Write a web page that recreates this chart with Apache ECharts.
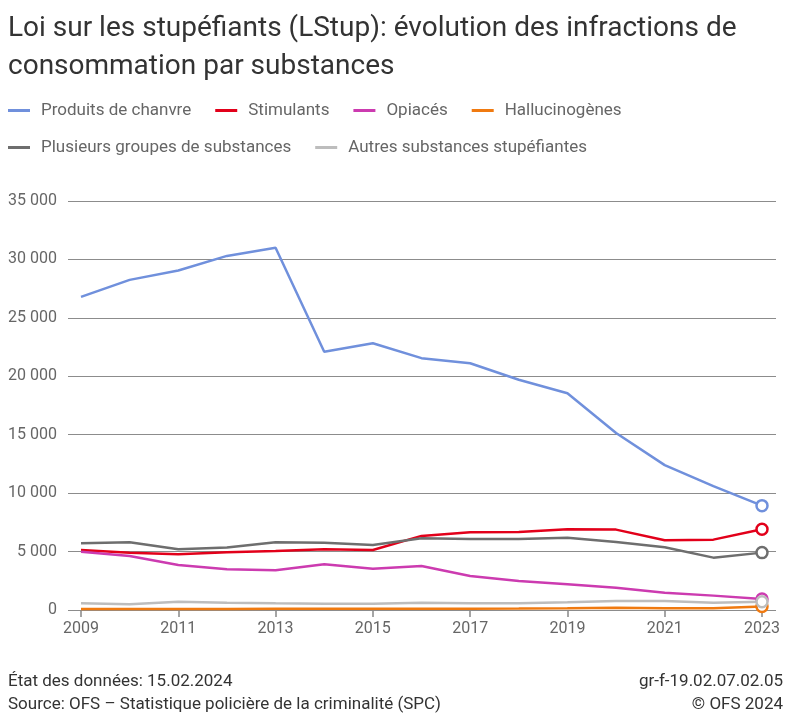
<!DOCTYPE html>
<html>
<head>
<meta charset="utf-8">
<script src="https://cdn.jsdelivr.net/npm/echarts@6/dist/echarts.min.js"></script>
<style>
  html, body { margin: 0; padding: 0; background: #fff; }
  #chart { width: 791px; height: 721px; }
</style>
</head>
<body>
<div id="chart"></div>
<script>
// années et valeurs
const years = [2009, 2010, 2011, 2012, 2013, 2014, 2015, 2016, 2017, 2018, 2019, 2020, 2021, 2022, 2023];
const chanvre = [26800, 28250, 29050, 30300, 31000, 22100, 22830, 21550, 21120, 19700, 18550, 15150, 12400, 10600, 8930];
const stimulants = [5140, 4900, 4770, 4940, 5050, 5200, 5140, 6340, 6650, 6680, 6910, 6880, 5970, 6020, 6910];
const opiaces = [4990, 4620, 3850, 3480, 3400, 3910, 3540, 3770, 2910, 2480, 2200, 1910, 1480, 1230, 940];
const hallucinogenes = [80, 80, 90, 90, 100, 110, 110, 100, 110, 120, 140, 190, 160, 150, 300];
const plusieurs = [5710, 5800, 5200, 5340, 5800, 5760, 5570, 6140, 6080, 6080, 6190, 5820, 5370, 4480, 4910];
const autres = [570, 490, 710, 620, 570, 540, 540, 620, 570, 570, 660, 770, 770, 620, 700];
const yTicks = [0, 5000, 10000, 15000, 20000, 25000, 30000, 35000];

const names = ['Produits de chanvre', 'Stimulants', 'Opiacés', 'Hallucinogènes',
  'Plusieurs groupes de substances', 'Autres substances stupéfiantes'];
const colors = ['#7090dc', '#e2001a', '#cc3bb0', '#f07a10', '#6e6e6e', '#bdbdbd'];
const values = [chanvre, stimulants, opiaces, hallucinogenes, plusieurs, autres];

const fmt = v => String(v).replace(/\B(?=(\d{3})+(?!\d))/g, ' ');
const font = 'Roboto';

const chart = echarts.init(document.getElementById('chart'));

const series = names.map((name, i) => ({
  name: name,
  type: 'line',
  xAxisIndex: 1,
  yAxisIndex: 1,
  color: colors[i],
  lineStyle: { width: 2.5, color: colors[i] },
  symbol: 'circle',
  showAllSymbol: true,
  symbolSize: (v, p) => p.dataIndex === years.length - 1 ? 11 : 0,
  data: years.map((y, j) => {
    if (j === years.length - 1) {
      return { value: [y, values[i][j]], itemStyle: { color: '#fff', borderColor: colors[i], borderWidth: 2.5 } };
    }
    return [y, values[i][j]];
  })
}));

const legendBase = {
  left: 3,
  icon: 'rect',
  itemWidth: 22,
  itemHeight: 3,
  itemGap: 24,
  textStyle: { color: '#666', fontSize: 17, fontFamily: font, padding: [0, 0, 0, 6] }
};

chart.setOption({
  animation: false,
  title: {
    text: 'Loi sur les stupéfiants (LStup): évolution des infractions de\nconsommation par substances',
    left: 3,
    top: 5,
    textStyle: { color: '#333', fontSize: 28, fontWeight: 'normal', fontFamily: font, lineHeight: 38 }
  },
  legend: [
    Object.assign({}, legendBase, { top: 97, data: names.slice(0, 4) }),
    Object.assign({}, legendBase, { top: 134, data: names.slice(4) })
  ],
  grid: [
    { left: 68, right: 15, top: 201, bottom: 111 },
    { left: 81, right: 29, top: 201, bottom: 111 }
  ],
  xAxis: [
    { type: 'value', gridIndex: 0, show: false, min: 0, max: 1 },
    {
      type: 'value', gridIndex: 1, min: years[0], max: years[years.length - 1], interval: 2,
      axisLine: { show: false },
      axisTick: { show: true, length: 7, lineStyle: { color: '#888', width: 1.5 } },
      splitLine: { show: false },
      axisLabel: { color: '#666', fontSize: 16, fontFamily: font, margin: 11, formatter: v => String(v) }
    }
  ],
  yAxis: [
    {
      type: 'value', gridIndex: 0, min: yTicks[0], max: yTicks[yTicks.length - 1], interval: 5000,
      axisLine: { show: false },
      axisTick: { show: false },
      splitLine: { lineStyle: { color: '#8c8c8c', width: 1 } },
      axisLabel: { color: '#666', fontSize: 16, fontFamily: font, margin: 11, formatter: fmt }
    },
    {
      type: 'value', gridIndex: 1, min: yTicks[0], max: yTicks[yTicks.length - 1], interval: 5000,
      show: false, splitLine: { show: false }
    }
  ],
  graphic: [
    { type: 'text', left: 8, top: 673, style: { text: 'État des données: 15.02.2024', fill: '#333', font: '17px Roboto' } },
    { type: 'text', left: 8, top: 696, style: { text: 'Source: OFS – Statistique policière de la criminalité (SPC)', fill: '#333', font: '17px Roboto' } },
    { type: 'text', right: 8, top: 673, style: { text: 'gr-f-19.02.07.02.05', fill: '#333', font: '17px Roboto' } },
    { type: 'text', right: 8, top: 696, style: { text: '© OFS 2024', fill: '#333', font: '17px Roboto' } }
  ],
  series: series
});
</script>
</body>
</html>
